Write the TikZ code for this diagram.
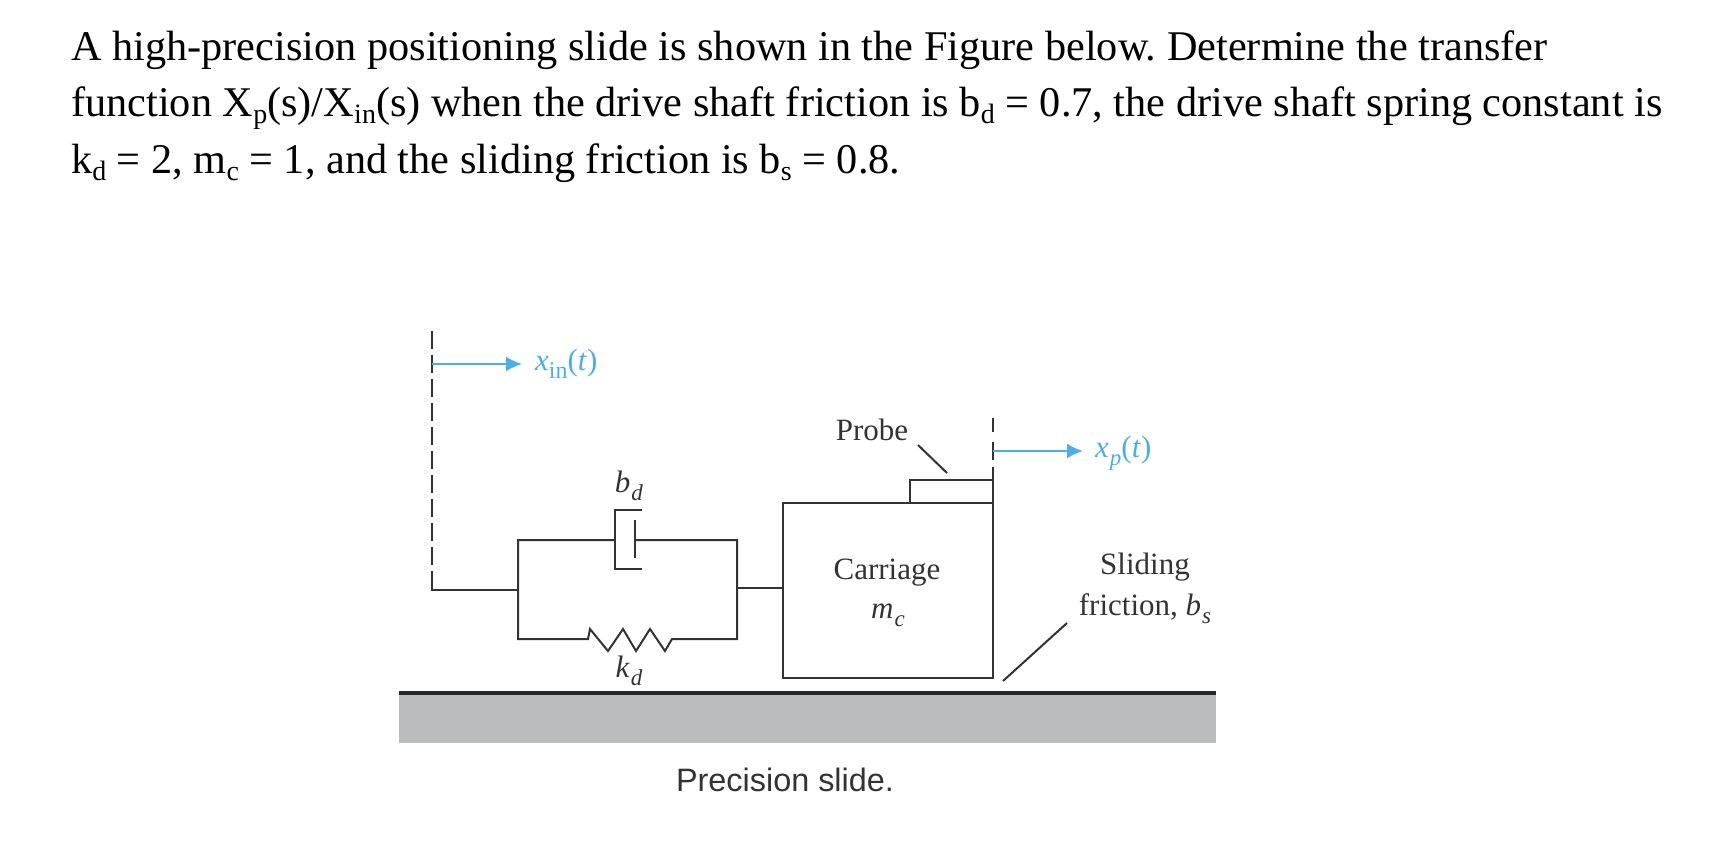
\documentclass[tikz,border=0pt]{standalone}
\usepackage{fontspec}
\setmainfont{Liberation Serif}
\newfontfamily\capfont{Liberation Sans}
\usetikzlibrary{calc,arrows.meta}
\tikzset{>={Latex[length=16pt,width=15pt]}}
\definecolor{inkgray}{HTML}{333333}
\definecolor{motionblue}{HTML}{4BAEE8}
\definecolor{slidegray}{HTML}{BBBCBE}
\tikzset{
    question/.style = {anchor = base west, inner sep = 0pt, font = \fontsize{42.3}{42.3}\selectfont\frenchspacing, text = black},
    partlabel/.style = {anchor = base, inner sep = 0pt, font = \fontsize{31}{31}\selectfont, text = inkgray},
    motionlabel/.style = {anchor = base west, inner sep = 0pt, font = \fontsize{31}{31}\selectfont, text = motionblue},
    member/.style = {draw = inkgray, line width = 2pt, line join = miter},
    motion/.style = {->, motionblue, line width = 2pt},
}
\newcommand{\qsub}[1]{\raisebox{-0.17em}{\fontsize{28}{28}\selectfont #1}}
\newcommand{\lsub}[1]{\kern1pt\raisebox{-0.28em}{\fontsize{23}{23}\selectfont\textit{#1}}}
\begin{document}
\begin{tikzpicture}[x = 1pt, y = -1pt, line join = round]
    \useasboundingbox (0,0) rectangle (1725,860);
    % question text
    \node[question] (lineone) at (71,60) {A high-precision positioning slide is shown in the Figure below. Determine the transfer};
    \node[question] (linetwo) at (71,116.5) {function X\qsub{p}(s)/X\qsub{in}(s) when the drive shaft friction is b\qsub{d} = 0.7, the drive shaft spring constant is};
    \node[question] (linethree) at (71,173) {k\qsub{d} = 2, m\qsub{c} = 1, and the sliding friction is b\qsub{s} = 0.8.};
    % slide
    \fill[slidegray] (399,693) rectangle (1216,742.5);
    \draw[line width = 3.5pt, black!85] (399,693) coordinate (slideleft) -- (1216,693) coordinate (slideright);
    % carriage and probe
    \node[member, rectangle, minimum width = 210pt, minimum height = 175pt, inner sep = 0pt, outer sep = 0pt] (carriage) at (888,590.5) {};
    \node[member, rectangle, minimum width = 83pt, minimum height = 23pt, inner sep = 0pt, outer sep = 0pt, anchor = south east] (probe) at (carriage.north east) {};
    \node[partlabel] (carriagename) at (887,579) {Carriage};
    \node[partlabel] (carriagemass) at (888,618) {\textit{m}\lsub{c}};
    \node[partlabel] (probename) at (872,440) {Probe};
    \node[partlabel] (slidingname) at (1145,574) {Sliding};
    \node[partlabel] (frictionname) at (1145,615) {friction, \textit{b}\lsub{s}};
    \node[partlabel] (dampername) at (629,492) {\textit{b}\lsub{d}};
    \node[partlabel] (springname) at (629,677) {\textit{k}\lsub{d}};
    \node[anchor = base, inner sep = 0pt, font = \capfont\fontsize{32.4}{32.4}\selectfont, text = inkgray] (slidename) at (785,791.5) {Precision slide.};
    % leaders
    \draw[member] (918,445) coordinate (probeleader) -- (947,473) coordinate (probetip);
    \draw[member] (1067,623) coordinate (frictionleader) -- (1003,681) coordinate (frictiontip);
    % input side
    \coordinate (inputtop) at (432,331);
    \coordinate (inputfoot) at (432,590);
    \coordinate (barleft) at (518,590);
    \draw[member, dash pattern = on 18pt off 6pt] (inputtop) -- (inputfoot);
    \draw[member] (432,573) -- (inputfoot) -- (barleft);
    % damper and spring frame
    \coordinate (damperleft) at (615,540);
    \coordinate (damperright) at (635,540);
    \coordinate (frameright) at (737,540);
    \coordinate (springright) at (737,639);
    \draw[member] (damperleft) -- (518,540) -- (518,639) -- (588,639) -- (590,629) -- (608,651) -- (623,629) -- (636,651) -- (650,629) -- (665,651) -- (672,639) -- (springright) -- (frameright) -- (damperright);
    \draw[member] (642,510) -- (615,510) -- (615,569) -- (642,569);
    \draw[member] (635,520) -- (635,558);
    \draw[member] (737,588) -- (carriage.west |- 737,588);
    % output side
    \draw[member] (carriage.north east) -- (993,467);
    \draw[member] (993,460) -- (993,442);
    \draw[member] (993,432) -- (993,418);
    % motion arrows
    \node[motionlabel] (inputname) at (535,370) {\textit{x}\raisebox{-0.28em}{\fontsize{24}{24}\selectfont in}(\textit{t})};
    \node[motionlabel] (outputname) at (1095,457) {\textit{x}\lsub{p}(\textit{t})};
    \coordinate (inputtip) at (522,364);
    \coordinate (outputtip) at (1083,451);
    \draw[motion] (432,364) -- (inputtip);
    \draw[motion] (993,451) -- (outputtip);
\end{tikzpicture}
\end{document}
